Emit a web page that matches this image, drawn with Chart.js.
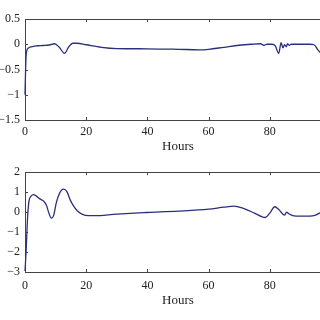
<!DOCTYPE html>
<html lang="en">
<head>
  <meta charset="UTF-8">
  <title>Hours</title>
  <script src="https://cdn.jsdelivr.net/npm/chart.js"></script>
  <style>
    html, body { margin: 0; padding: 0; background: #fff; overflow: hidden; width: 320px; height: 320px; }
    canvas { display: block; }
  </style>
</head>
<body>
  <canvas id="topChart" width="360" height="160"></canvas>
  <canvas id="bottomChart" width="360" height="160"></canvas>
  <script>
    // x ticks shared by both panels
    const hourTicks = [0, 20, 40, 60, 80, 100];
    const topYTicks = [-1.5, -1, -0.5, 0, 0.5];
    const bottomYTicks = [-3, -2, -1, 0, 1, 2];

    // upper panel
    const topHours = [0, 0.3, 0.6, 1, 2, 4, 6, 8, 9.6, 11.2, 12.9, 14.3, 15.6, 17, 20, 25, 30, 40, 50, 57, 60, 65,
      70, 74, 77, 78, 79.1, 80.7, 81.8, 82.9, 83.7, 84.3, 84.8, 85.4, 85.8, 86.3, 87, 90, 93, 94.5, 95.6, 96.6, 97.5];
    const topValues = [-1.0, -0.3, -0.12, -0.08, -0.05, -0.03, -0.025, -0.015, 0.01, -0.06, -0.18, -0.05, 0.02, 0.02, -0.01, -0.06, -0.085, -0.09, -0.1, -0.11, -0.1, -0.06,
      -0.02, 0.0, 0.01, -0.02, 0.0, 0.0, -0.03, -0.18, 0.03, -0.07, -0.01, -0.05, 0.01, -0.02, 0.0, 0.0, 0.0, -0.01, -0.1, -0.17, -0.22];

    // lower panel
    const bottomHours = [0, 0.33, 0.87, 1.3, 2, 2.8, 3.7, 5, 6.1, 7, 7.7, 8.6, 9.4, 10.2, 11.3, 12.6, 13.7, 14.8, 15.9, 17, 18.6, 20.8, 22.5,
      30, 40, 50, 60, 65, 68.3, 70, 72, 75, 78.5, 80, 81.6, 83, 84.8, 85.5, 86.2, 87.5, 90, 93, 95, 96.6, 98];
    const bottomValues = [-2.95, -2.05, -0.2, 0.55, 0.8, 0.88, 0.8, 0.65, 0.55, 0.35, 0.0, -0.3, -0.15, 0.45, 0.95, 1.15, 1.03, 0.6, 0.3, 0.08, -0.1, -0.18, -0.18,
      -0.1, -0.02, 0.05, 0.15, 0.25, 0.3, 0.25, 0.15, -0.05, -0.27, -0.05, 0.27, 0.12, -0.15, 0.0, -0.08, -0.17, -0.2, -0.2, -0.15, -0.02, 0.0];

    const lineColor = '#2c2f7c';
    const textColor = '#222';
    const frameColor = '#444';
    const serif = "'Liberation Serif', 'DejaVu Serif', serif";

    // box with inward tick marks (matlab style), drawn under the curve
    const framePlugin = {
      id: 'frame',
      beforeDatasetsDraw(chart) {
        const ctx = chart.ctx;
        const a = chart.chartArea;
        const xs = chart.scales.x, ys = chart.scales.y;
        ctx.save();
        ctx.strokeStyle = frameColor;
        ctx.lineWidth = 1;
        ctx.strokeRect(Math.round(a.left) + 0.5, Math.round(a.top) + 0.5, Math.round(a.right - a.left), Math.round(a.bottom - a.top));
        ctx.beginPath();
        xs.ticks.forEach(t => {
          const px = Math.round(xs.getPixelForValue(t.value)) + 0.5;
          ctx.moveTo(px, a.bottom); ctx.lineTo(px, a.bottom - 3);
          ctx.moveTo(px, a.top); ctx.lineTo(px, a.top + 3);
        });
        ys.ticks.forEach(t => {
          const py = Math.round(ys.getPixelForValue(t.value)) + 0.5;
          ctx.moveTo(a.left, py); ctx.lineTo(a.left + 3, py);
        });
        ctx.stroke();
        ctx.restore();
      }
    };

    function minus(v) {
      return String(v).replace('-', '\u2212');
    }

    function makeChart(id, hours, values, yTicks, pad, xHeight, tickPad) {
      return new Chart(document.getElementById(id), {
        type: 'line',
        data: {
          datasets: [{
            data: hours.map((h, i) => ({ x: h, y: values[i] })),
            borderColor: lineColor,
            borderWidth: 1.3,
            pointRadius: 0,
            cubicInterpolationMode: 'monotone',
            clip: 2,
            fill: false
          }]
        },
        options: {
          responsive: false,
          animation: false,
          layout: { padding: pad },
          plugins: { legend: { display: false }, tooltip: { enabled: false } },
          scales: {
            x: {
              type: 'linear',
              min: 0, max: 100,
              afterBuildTicks: s => { s.ticks = hourTicks.map(v => ({ value: v })); },
              afterFit: s => { s.height = xHeight; },
              grid: { display: false, drawTicks: false },
              border: { display: false },
              ticks: { color: textColor, font: { family: serif, size: 12 }, padding: tickPad, maxRotation: 0 },
              title: { display: true, text: 'Hours', color: textColor, font: { family: serif, size: 13 }, padding: { top: 0, bottom: 2 } }
            },
            y: {
              min: yTicks[0], max: yTicks[yTicks.length - 1],
              afterBuildTicks: s => { s.ticks = yTicks.map(v => ({ value: v })); },
              afterFit: s => { s.width = 25; },
              grid: { display: false, drawTicks: false },
              border: { display: false },
              ticks: { color: textColor, font: { family: serif, size: 12 }, padding: 5, callback: v => minus(v) }
            }
          }
        },
        plugins: [framePlugin]
      });
    }

    makeChart('topChart', topHours, topValues, topYTicks, { top: 19, left: 0, right: 29, bottom: 4 }, 36, 5);
    makeChart('bottomChart', bottomHours, bottomValues, bottomYTicks, { top: 12, left: 0, right: 29, bottom: 10 }, 38, 7);
  </script>
</body>
</html>
